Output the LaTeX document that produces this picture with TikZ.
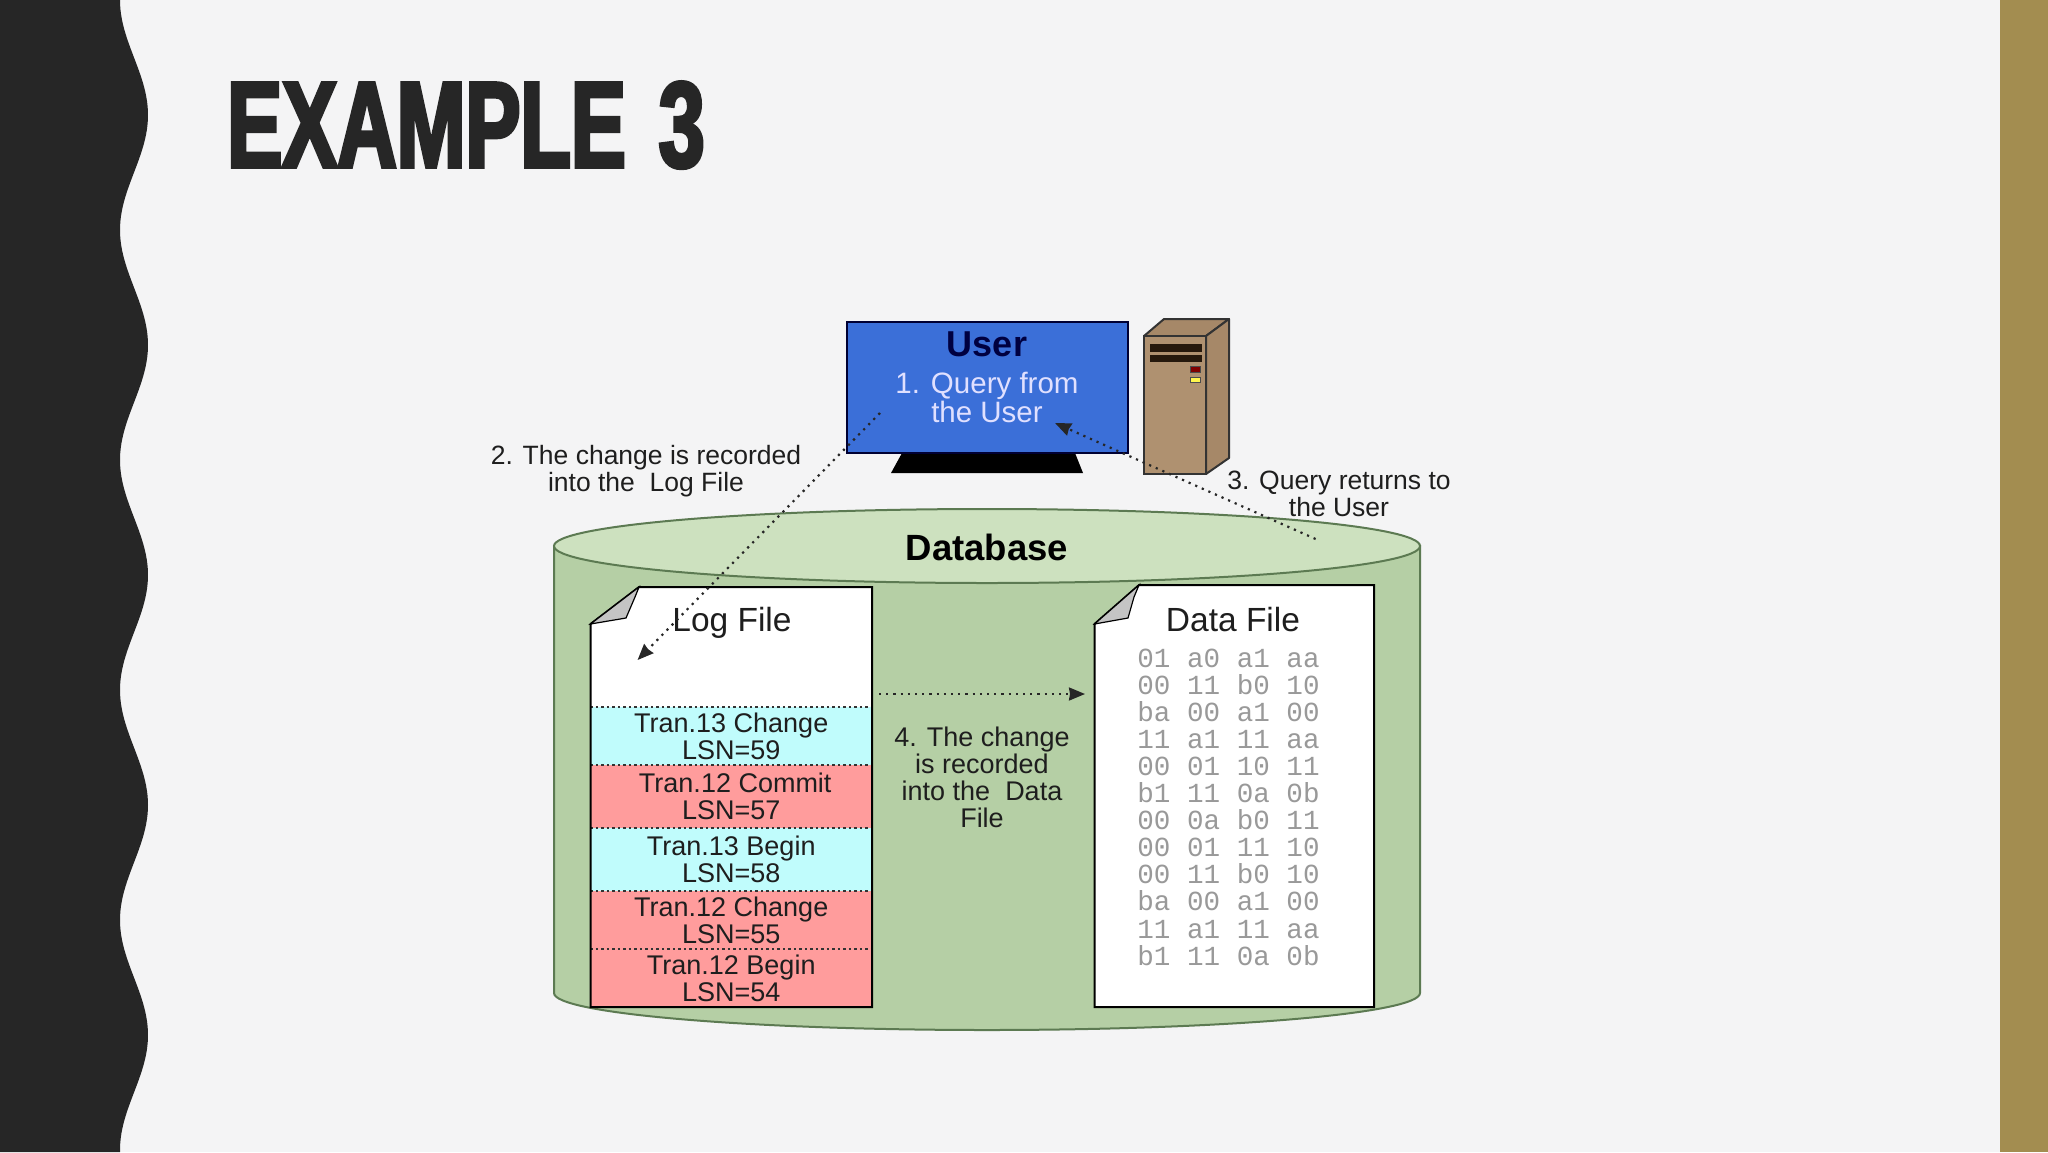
\documentclass[tikz,border=0pt]{standalone}
\usepackage{fontspec}
\setmainfont{Liberation Sans}
\setmonofont{Liberation Mono}
\newfontfamily\titlefont[FakeBold=3,FakeStretch=0.676,Kerning=Off]{Liberation Sans Bold}
\usetikzlibrary{arrows.meta}
\definecolor{bgc}{HTML}{F4F4F5}
\definecolor{darkc}{HTML}{262626}
\definecolor{goldc}{HTML}{A38D50}
\definecolor{dbside}{HTML}{B5CFA5}
\definecolor{dbtop}{HTML}{CDE1BF}
\definecolor{dbline}{HTML}{5C7A52}
\definecolor{monc}{HTML}{3B6FD8}
\definecolor{towerc}{HTML}{AF9170}
\definecolor{towerd}{HTML}{A68868}
\definecolor{cyanc}{HTML}{C0FCFC}
\definecolor{redc}{HTML}{FF9C9C}
\definecolor{foldc}{HTML}{C4C4C4}
\definecolor{hexc}{HTML}{999999}
\definecolor{txtc}{HTML}{1E1E1E}
\tikzset{
  lbl/.style={inner sep=0pt,align=center,text=txtc,font=\fontsize{27}{27}\selectfont},
  strip/.style={inner sep=0pt,minimum width=281.5pt,align=center,text=txtc,font=\fontsize{27}{27}\selectfont},
  docline/.style={draw=black,line width=2pt,line join=miter},
  sep/.style={draw=black!80,line width=1.5pt,dash pattern=on 2.5pt off 3pt},
  flow/.style={draw=black!85,line width=2.2pt,dash pattern=on 2.2pt off 5pt,-{Stealth[length=16pt,width=13pt,inset=1pt]}},
}
\begin{document}
\begin{tikzpicture}[x=1pt,y=-1pt]
\useasboundingbox (0,0) rectangle (2048,1152);
\fill[bgc] (0,0) rectangle (2048,1152);
% side decoration
\fill[darkc] (0,0) -- plot[domain=0:1152,samples=240,variable=\t] ({134-14*cos(\t/230*360)},\t) -- (0,1152) -- cycle;
\fill[goldc] (2000,0) rectangle (2048,1152);
% title
\node[anchor=base west,inner sep=0pt,text=darkc,font=\fontsize{122}{122}\titlefont] (title) at (227,167) {EXAMPLE\hspace{10pt} 3};
% database cylinder
\draw[fill=dbside,draw=dbline,line width=2pt] (554,546) -- (554,993) arc[x radius=433,y radius=37,start angle=180,end angle=0] -- (1420,546) -- cycle;
\draw[fill=dbtop,draw=dbline,line width=2pt] (987,546) ellipse[x radius=433,y radius=37];
\node[lbl,font=\fontsize{36.5}{36.5}\selectfont\bfseries,text=black] (db) at (987,547) {Database};
% log file
\fill[white] (639,587) -- (872,587) -- (872,1007) -- (590.5,1007) -- (590.5,624) -- cycle;
\node[strip,fill=cyanc,minimum height=58pt] (s1) at (731.25,736) {Tran.13 Change\\LSN=59};
\node[strip,fill=redc,minimum height=63pt] (s2) at (731.25,796.5) {\hspace*{8pt}Tran.12 Commit\\LSN=57};
\node[strip,fill=cyanc,minimum height=63pt] (s3) at (731.25,859.5) {Tran.13 Begin\\LSN=58};
\node[strip,fill=redc,minimum height=58pt] (s4) at (731.25,920) {Tran.12 Change\\LSN=55};
\node[strip,fill=redc,minimum height=58pt] (s5) at (731.25,978) {Tran.12 Begin\\LSN=54};
\foreach \s in {s1,s2,s3,s4,s5} \draw[sep] (\s.north west) -- (\s.north east);
\draw[docline] (639,587) -- (872,587) -- (872,1007) -- (590.5,1007) -- (590.5,624) -- cycle;
\draw[fill=foldc,draw=black,line width=1.2pt] (639,587) -- (635,597) -- (626,618) -- (590.5,624) -- cycle;
\node[lbl,font=\fontsize{33.5}{33.5}\selectfont] (logt) at (732,623) {Log File};
% data file
\draw[docline,fill=white] (1139,585) -- (1374,585) -- (1374,1007) -- (1094.5,1007) -- (1094.5,624) -- cycle;
\draw[fill=foldc,draw=black,line width=1.2pt] (1139,585) -- (1134,597) -- (1128,618) -- (1094.5,624) -- cycle;
\node[lbl,font=\fontsize{33.5}{33.5}\selectfont] (datat) at (1233,620) {Data File};
\node[inner sep=0pt,align=left,text=hexc,font=\fontsize{27.6}{27.1}\ttfamily] (hex) at (1228.5,807) {01 a0 a1 aa\\00 11 b0 10\\ba 00 a1 00\\11 a1 11 aa\\00 01 10 11\\b1 11 0a 0b\\00 0a b0 11\\00 01 11 10\\00 11 b0 10\\ba 00 a1 00\\11 a1 11 aa\\b1 11 0a 0b};
% monitor
\fill[black] (902,453) -- (1075,453) -- (1083,473) -- (891,473) -- cycle;
\node[draw=black!80!blue,line width=2pt,fill=monc,minimum width=281pt,minimum height=131pt,inner sep=0pt] (mon) at (987,387.5) {};
\node[lbl,font=\fontsize{36}{36}\selectfont\bfseries,text=black!75!blue] (usr) at (987,344) {User};
\node[lbl,font=\fontsize{29.5}{29}\selectfont,text=white!88!blue] (q1) at (987,397.5) {1. Query from\\the User};
% tower
\draw[fill=towerd,draw=black!80,line width=2pt,line join=round] (1144,336) -- (1164,319) -- (1229,319) -- (1206,336) -- cycle;
\draw[fill=towerd,draw=black!80,line width=2pt,line join=round] (1206,336) -- (1229,319) -- (1229,458) -- (1206,474) -- cycle;
\node[draw=black!80,line width=2pt,fill=towerc,minimum width=62pt,minimum height=138pt,inner sep=0pt] (tower) at (1175,405) {};
\fill[black!80!brown] (1150,344) rectangle (1202,352);
\fill[black!80!brown] (1150,355) rectangle (1202,362);
\draw[fill=red!50!black,draw=black!70,line width=1pt] (1190,366) rectangle (1200,372);
\draw[fill=yellow!70,draw=black!70,line width=1pt] (1190,377) rectangle (1200,382);
% labels
\node[lbl,font=\fontsize{26.5}{27}\selectfont] (l2) at (646,471) {2. The change is recorded\\into the\ \ Log File};
\node[lbl,font=\fontsize{26.5}{27}\selectfont] (l3) at (1339,493.5) {3. Query returns to\\the User};
\node[lbl] (l4) at (982,777.5) {4. The change\\is recorded\\into the\ \ Data\\File};
% connectors
\coordinate (a2s) at (880,413);
\coordinate (a2e) at (637.6,660);
\coordinate (a3s) at (1315.6,539);
\coordinate (a3e) at (1055,423);
\coordinate (a4s) at (879,694);
\coordinate (a4e) at (1085,694);
\draw[flow] (a2s) -- (a2e);
\draw[flow] (a3s) -- (a3e);
\draw[flow] (a4s) -- (a4e);
\end{tikzpicture}
\end{document}
